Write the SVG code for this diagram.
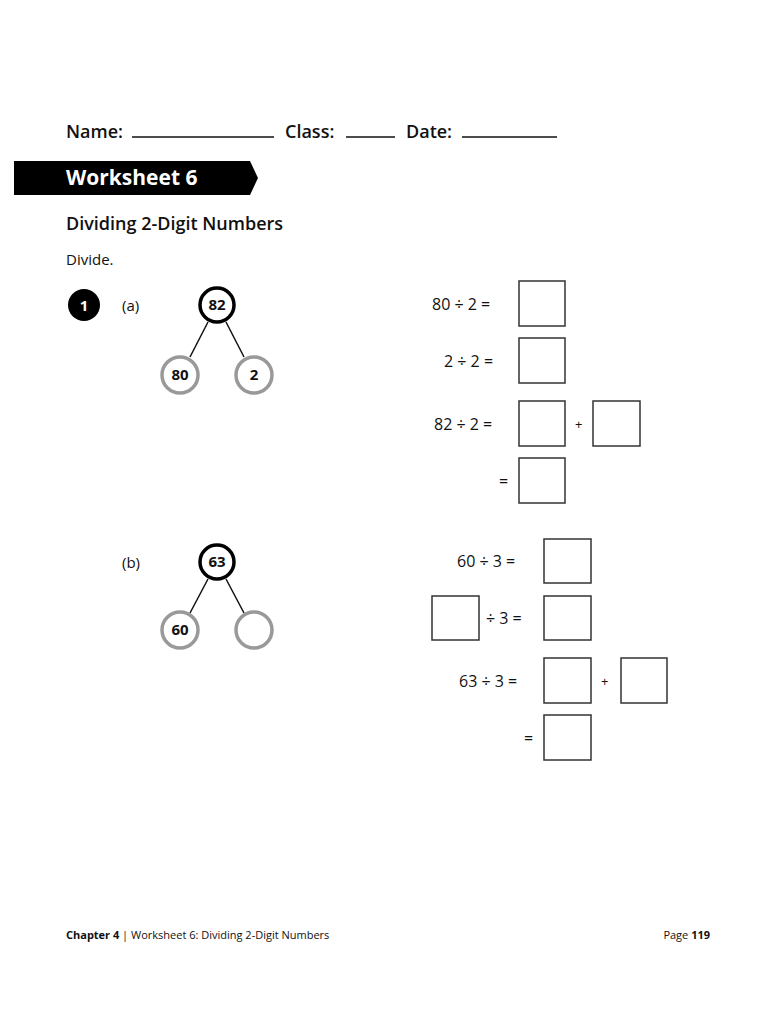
<svg xmlns="http://www.w3.org/2000/svg" width="768" height="1024" viewBox="0 0 768 1024">
<style>
text{font-family:"Open Sans","Liberation Sans",sans-serif;fill:#111}
.h{font-size:18px;font-weight:600}
.eq{font-size:16px}
.b{fill:#fff;stroke:#333;stroke-width:1.5}
.top{fill:#fff;stroke:#000;stroke-width:3.5}
.bot{fill:#fff;stroke:#999;stroke-width:3.5}
.n{font-size:15px;font-weight:700;text-anchor:middle}
.l{stroke:#111;stroke-width:1.5}
</style>
<rect width="768" height="1024" fill="#fff"/>
<g id="header">
<text x="66" y="138" class="h">Name:</text><line x1="132" y1="137" x2="274" y2="137" stroke="#111" stroke-width="1.5"/>
<text x="285" y="138" class="h">Class:</text><line x1="346" y1="137" x2="395" y2="137" stroke="#111" stroke-width="1.5"/>
<text x="406" y="138" class="h">Date:</text><line x1="462" y1="137" x2="557" y2="137" stroke="#111" stroke-width="1.5"/>
<polygon points="14,161 250,161 258,178 250,195 14,195" fill="#000"/>
<text x="66" y="185" style="font-size:21px;font-weight:700;fill:#fff">Worksheet 6</text>
<text x="66" y="230" style="font-size:18px;font-weight:600">Dividing 2-Digit Numbers</text>
<text x="66" y="265" style="font-size:15px">Divide.</text>
<circle cx="84" cy="305" r="16" fill="#000"/>
<text x="84" y="311" class="n" style="fill:#fff">1</text>
<text x="122" y="311" style="font-size:15px">(a)</text>
<text x="122" y="568" style="font-size:15px">(b)</text>
</g>
<g id="connectors">
<line class="l" x1="208" y1="322" x2="190" y2="357"/><line class="l" x1="226" y1="322" x2="244" y2="357"/>
<line class="l" x1="208" y1="579" x2="190" y2="613"/><line class="l" x1="226" y1="579" x2="244" y2="613"/>
</g>
<g id="n82"><circle class="top" cx="217" cy="305" r="17"/><text x="217" y="310" class="n">82</text></g>
<g id="n80"><circle class="bot" cx="180" cy="375" r="18"/><text x="180" y="380" class="n">80</text></g>
<g id="n2"><circle class="bot" cx="254" cy="375" r="18"/><text x="254" y="380" class="n">2</text></g>
<g id="n63"><circle class="top" cx="217" cy="562" r="17"/><text x="217" y="567" class="n">63</text></g>
<g id="n60"><circle class="bot" cx="180" cy="630" r="18"/><text x="180" y="635" class="n">60</text></g>
<g id="nE"><circle class="bot" cx="254" cy="630" r="18"/></g>
<g id="eqA">
<text x="432" y="310" class="eq">80 ÷ 2 =</text><rect class="b" x="519" y="281" width="46" height="45"/>
<text x="444" y="367" class="eq">2 ÷ 2 =</text><rect class="b" x="519" y="338" width="46" height="45"/>
<text x="434" y="430" class="eq">82 ÷ 2 =</text><rect class="b" x="519" y="401" width="46" height="45"/>
<text x="575" y="429" class="eq" style="font-size:13px">+</text><rect class="b" x="593" y="401" width="47" height="45"/>
<text x="499" y="487" class="eq">=</text><rect class="b" x="519" y="458" width="46" height="45"/>
</g>
<g id="eqB">
<text x="457" y="567" class="eq">60 ÷ 3 =</text><rect class="b" x="544" y="539" width="47" height="44"/>
<rect class="b" x="432" y="596" width="47" height="44"/><text x="486" y="624" class="eq">÷ 3 =</text><rect class="b" x="544" y="596" width="47" height="44"/>
<text x="459" y="687" class="eq">63 ÷ 3 =</text><rect class="b" x="544" y="658" width="47" height="45"/>
<text x="601" y="686" class="eq" style="font-size:13px">+</text><rect class="b" x="621" y="658" width="46" height="45"/>
<text x="524" y="744" class="eq">=</text><rect class="b" x="544" y="715" width="47" height="45"/>
</g>
<g id="footer">
<text x="66" y="939" style="font-size:11px"><tspan font-weight="700">Chapter 4</tspan> | Worksheet 6: Dividing 2-Digit Numbers</text>
<text x="710" y="939" style="font-size:11px;text-anchor:end">Page <tspan font-weight="700">119</tspan></text>
</g>
</svg>
